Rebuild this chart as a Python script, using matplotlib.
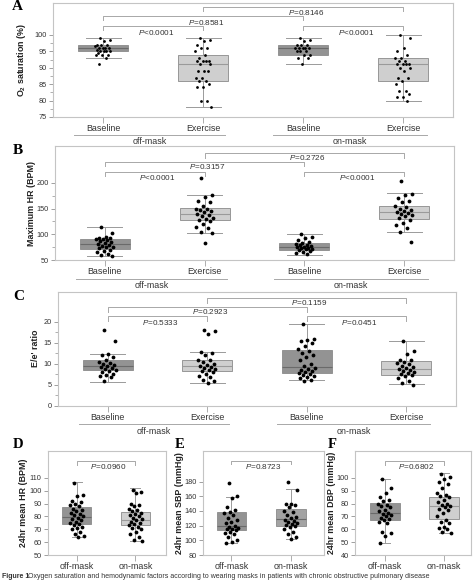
import matplotlib
matplotlib.use('Agg')
import matplotlib.pyplot as plt
from matplotlib.transforms import offset_copy
import numpy as np

plt.rcParams['font.family'] = ['Liberation Sans', 'DejaVu Sans']
plt.rcParams['mathtext.fontset'] = 'custom'
plt.rcParams['mathtext.rm'] = 'Liberation Sans'
plt.rcParams['mathtext.it'] = 'Liberation Sans:italic'
plt.rcParams['mathtext.bf'] = 'Liberation Sans:bold'

# ---------------- data ----------------
abc_categories = ['Baseline', 'Exercise', 'Baseline', 'Exercise']
abc_groups = ['off-mask', 'on-mask']
def_categories = ['off-mask', 'on-mask']

# Panel A: O2 saturation (%)
a_q1 = [95, 86, 94, 86]
a_med = [96, 91, 96, 91]
a_q3 = [97, 94, 97, 93]
a_lo = [93, 78, 91, 80]
a_hi = [99, 99, 99, 100]
a_base_off = [99, 98.5, 98, 97, 97, 97, 96.5, 96, 96, 96, 96, 95.5, 95, 95, 95, 95, 94.5, 94, 94, 94, 93, 91]
a_exer_off = [99, 98.5, 98, 97, 96, 96, 95, 94, 93, 92, 92, 92, 92, 91, 91, 89, 89, 89, 87, 87, 86, 86, 85, 84, 84, 80, 80, 78]
a_base_on = [99, 98.5, 98, 97, 97, 97, 96, 96, 96, 96, 96, 95, 95, 95, 94, 94, 93, 93, 91]
a_exer_on = [100, 99, 96, 95, 94, 93, 93, 92, 92, 91, 91, 91, 91, 90, 90, 89, 87, 87, 86, 85, 83, 83, 82, 81, 81, 80]
a_pvals = ['<0.0001', '=0.8581', '=0.8146', '<0.0001']

# Panel B: maximum HR (BPM)
b_q1 = [71, 127, 69, 130.5]
b_med = [81, 140, 76, 143.5]
b_q3 = [91.5, 150.5, 82.5, 155]
b_lo = [58, 102, 59, 104.5]
b_hi = [115, 176, 100, 180]
b_base_off = [115, 103, 95, 93, 92, 91, 90, 88, 87, 85, 84, 82, 80, 78, 76, 75, 73, 70, 68, 65, 62, 60, 58]
b_exer_off = [210, 176, 173, 165, 162, 155, 150, 150, 148, 145, 143, 140, 138, 135, 132, 130, 128, 125, 120, 115, 112, 105, 103, 84]
b_base_on = [101, 95, 92, 88, 85, 83, 82, 80, 79, 78, 76, 75, 74, 73, 72, 71, 70, 68, 65, 63, 61]
b_exer_on = [203, 179, 177, 171, 165, 162, 155, 153, 150, 148, 145, 143, 142, 140, 137, 135, 132, 128, 122, 118, 112, 105, 86]
b_pvals = ['<0.0001', '=0.3157', '=0.2726', '<0.0001']

# Panel C: E/e' ratio
c_q1 = [8.4, 8.2, 7.9, 7.4]
c_med = [9.4, 9.45, 9.2, 8.65]
c_q3 = [10.8, 11.0, 13.3, 10.55]
c_lo = [5.75, 5.35, 6.1, 5.1]
c_hi = [12.4, 12.75, 19.45, 15.3]
c_base_off = [18, 15.4, 12.3, 12, 11.5, 11, 10.5, 10.2, 10, 9.8, 9.5, 9.3, 9, 8.8, 8.5, 8.2, 8, 7.5, 7.2, 7, 6.8, 5.8]
c_exer_off = [18, 17.8, 17, 12.7, 12.5, 12, 11, 10.8, 10.3, 10, 9.8, 9.5, 9.2, 9, 8.8, 8.5, 8.3, 8, 7.5, 7, 6.8, 6.2, 5.8, 5.3]
c_base_on = [19.5, 16, 15.7, 15.3, 15, 14.2, 13.5, 13, 12.5, 12, 11.5, 11, 10, 9.5, 9, 8.8, 8.5, 8.2, 8, 7.8, 7.5, 7.2, 7, 6.8, 6.5, 6.2, 6]
c_exer_on = [15.3, 13, 12.2, 11, 10.8, 10.5, 10.2, 10, 9.5, 9.2, 9, 8.8, 8.5, 8.3, 8, 7.8, 7.5, 7.2, 7, 6.5, 6, 5.5, 5]
c_pvals = ['=0.5333', '=0.2923', '=0.1159', '=0.0451']

# Panel D: 24hr mean HR (BPM)
d_q1 = [74.2, 73.1]
d_med = [79.4, 77]
d_q3 = [87.1, 83.2]
d_lo = [64.3, 61.2]
d_hi = [106.6, 101.9]
d_off = [106, 97, 96, 92, 91, 90, 89, 88, 86, 85, 84, 83, 82, 81, 80, 79, 78, 77, 76, 75, 74, 73, 72, 71, 70, 68, 66, 65, 64]
d_on = [101, 99, 98, 90, 89, 88, 86, 85, 84, 83, 82, 81, 80, 79, 78, 77, 76, 75, 74, 73, 72, 71, 70, 68, 66, 64, 62, 61]
d_pval = '=0.0960'

# Panel E: 24hr mean SBP (mmHg)
e_q1 = [114, 120]
e_med = [119.5, 128.6]
e_q3 = [138, 142.7]
e_lo = [97, 102]
e_hi = [159.5, 169.5]
e_off = [178, 160, 158, 145, 142, 138, 137, 135, 130, 128, 125, 123, 120, 118, 117, 116, 115, 114, 112, 110, 108, 105, 100, 98, 97]
e_on = [180, 168, 150, 149, 148, 145, 140, 138, 135, 132, 130, 128, 127, 125, 124, 122, 121, 120, 118, 115, 112, 108, 105, 102]
e_pval = '=0.8723'

# Panel F: 24hr mean DBP (mmHg)
f_q1 = [67.3, 68]
f_med = [73, 78.4]
f_q3 = [80.3, 85]
f_lo = [49.6, 57]
f_hi = [99.2, 103.6]
f_off = [99, 92, 88, 85, 83, 82, 80, 79, 78, 77, 75, 74, 73, 72, 71, 70, 69, 68, 67, 66, 65, 58, 57, 55, 49]
f_on = [103, 101, 99, 97, 95, 92, 88, 87, 86, 85, 83, 81, 80, 79, 78, 77, 76, 75, 73, 70, 67, 66, 65, 62, 61, 60, 58, 57]
f_pval = '=0.6802'

caption_head = 'Figure 1'
caption_body = ('Oxygen saturation and hemodynamic factors according to wearing masks '
                'in patients with chronic obstructive pulmonary disease')

# ---------------- style ----------------
W, H = 474, 581
DARK = '#939393'
MID = '#a3a3a3'
LIGHT = '#cfcfcf'
FRAME = '#c4c4c4'
TXT = '#333333'
LINE = '#a8a8a8'

fig = plt.figure(figsize=(W / 100, H / 100), dpi=100)


def add_ax(l, t, r, b):
    return fig.add_axes([l / W, 1 - b / H, (r - l) / W, (b - t) / H])


def jitter(n, amp):
    return amp * np.array([((k * 0.6180339887 + 0.3) % 1) * 2 - 1 for k in range(n)])


def draw_boxes(ax, q1, med, q3, lo, hi, pts, colors, capw, jamp, msize):
    stats = []
    for i in range(len(q1)):
        stats.append(dict(med=med[i], q1=q1[i], q3=q3[i], whislo=lo[i], whishi=hi[i], fliers=[]))
    pos = list(range(len(q1)))
    bp = ax.bxp(stats, positions=pos, widths=0.5, patch_artist=True, showfliers=False,
                capwidths=capw, manage_ticks=False,
                boxprops=dict(edgecolor='#8a8a8a', linewidth=0.6),
                whiskerprops=dict(color='#9a9a9a', linewidth=0.7),
                capprops=dict(color='#9a9a9a', linewidth=0.7),
                medianprops=dict(linewidth=0.8))
    for patch, c in zip(bp['boxes'], colors):
        patch.set_facecolor(c)
    for mline, c in zip(bp['medians'], colors):
        mline.set_color('#6a6a6a' if c != LIGHT else '#9a9a9a')
    for i, p in enumerate(pts):
        ax.scatter(i + jitter(len(p), jamp), p, s=msize, color='black', linewidths=0, zorder=5)


def style_ax(ax, xlim, ylim, yticks, minor):
    ax.set_xlim(*xlim)
    ax.set_ylim(*ylim)
    ax.set_yticks(yticks)
    ax.set_yticklabels([str(v) for v in yticks])
    if minor:
        ax.set_yticks(minor, minor=True)
    for s in ax.spines.values():
        s.set_color(FRAME)
        s.set_linewidth(0.8)
    ax.tick_params(axis='y', which='major', length=3, width=0.6, color='#909090',
                   labelsize=5.3, labelcolor=TXT, pad=1.5)
    ax.tick_params(axis='y', which='minor', length=2, width=0.5, color='#909090')
    ax.tick_params(axis='x', length=4, width=0.6, color='#a0a0a0', labelbottom=False)


def bracket(ax, x1, x2, y, ytext, label, drop_px=4.5):
    bb = ax.get_position()
    hpx = bb.height * H
    y0, y1 = ax.get_ylim()
    d = drop_px * (y1 - y0) / hpx
    ax.plot([x1, x1, x2, x2], [y - d, y, y, y - d], color=LINE, linewidth=0.7, zorder=3)
    ax.text((x1 + x2) / 2 + 0.03, ytext, r'$\mathit{P}$' + label,
            ha='center', va='center', fontsize=5.9, color=TXT)


def cat_labels(ax, labels, off_px=11.3):
    tr = offset_copy(ax.get_xaxis_transform(), fig=fig, y=-off_px, units='dots')
    for i, lab in enumerate(labels):
        ax.text(i, 0, lab, transform=tr, ha='center', va='center', fontsize=6.4, color=TXT, clip_on=False)


def group_labels(ax, groups, line_px, text_px):
    trl = offset_copy(ax.get_xaxis_transform(), fig=fig, y=-line_px, units='dots')
    trt = offset_copy(ax.get_xaxis_transform(), fig=fig, y=-text_px, units='dots')
    spans = [(-0.29, 1.22), (1.7, 3.24)]
    for (xa, xb), g in zip(spans, groups):
        ax.plot([xa, xb], [0, 0], transform=trl, color=LINE, linewidth=0.7, clip_on=False)
        ax.text((xa + xb) / 2, 0, g, transform=trt, ha='center', va='center', fontsize=6.4,
                color=TXT, clip_on=False)


abc_colors = [DARK, LIGHT, DARK, LIGHT]

# ---- Panel A ----
axA = add_ax(53, 3, 453, 117)
style_ax(axA, (-0.5, 3.5), (75, 109.7), [75, 80, 85, 90, 95, 100],
         [77.5, 82.5, 87.5, 92.5, 97.5])
draw_boxes(axA, a_q1, a_med, a_q3, a_lo, a_hi, [a_base_off, a_exer_off, a_base_on, a_exer_on],
           abc_colors, 0.35, 0.08, 4)
axA.set_xticks(range(4))
bracket(axA, 0, 1, 102.7, 100.6, a_pvals[0])
bracket(axA, 0, 2, 105.8, 103.9, a_pvals[1])
bracket(axA, 1, 3, 108.6, 106.8, a_pvals[2])
bracket(axA, 2, 3, 102.7, 100.6, a_pvals[3])
cat_labels(axA, abc_categories)
group_labels(axA, abc_groups, 18.3, 24.5)

# ---- Panel B ----
axB = add_ax(55, 146, 454, 260)
style_ax(axB, (-0.5, 3.5), (50, 272), [50, 100, 150, 200], [75, 125, 175])
draw_boxes(axB, b_q1, b_med, b_q3, b_lo, b_hi, [b_base_off, b_exer_off, b_base_on, b_exer_on],
           abc_colors, 0.35, 0.09, 7.5)
axB.set_xticks(range(4))
bracket(axB, 0, 1, 222, 210.4, b_pvals[0])
bracket(axB, 0, 2, 241.6, 231.8, b_pvals[1])
bracket(axB, 1, 3, 257.8, 249.4, b_pvals[2])
bracket(axB, 2, 3, 222, 210.4, b_pvals[3])
cat_labels(axB, abc_categories)
group_labels(axB, abc_groups, 19, 25)

# ---- Panel C ----
axC = add_ax(58, 291.5, 456, 405.7)
style_ax(axC, (-0.5, 3.5), (0, 27.2), [0, 5, 10, 15, 20], [2.5, 7.5, 12.5, 17.5])
draw_boxes(axC, c_q1, c_med, c_q3, c_lo, c_hi, [c_base_off, c_exer_off, c_base_on, c_exer_on],
           abc_colors, 0.35, 0.09, 7.5)
axC.set_xticks(range(4))
bracket(axC, 0, 1, 21.3, 19.8, c_pvals[0])
bracket(axC, 0, 2, 23.4, 22.4, c_pvals[1])
bracket(axC, 1, 3, 25.6, 24.6, c_pvals[2])
bracket(axC, 2, 3, 21.3, 19.8, c_pvals[3])
cat_labels(axC, abc_categories)
group_labels(axC, abc_groups, 18.6, 26)

# ---- Panels D, E, F ----
axD = add_ax(48, 451, 166, 555)
style_ax(axD, (-0.49, 1.52), (50, 131), [50, 60, 70, 80, 90, 100, 110], None)
draw_boxes(axD, d_q1, d_med, d_q3, d_lo, d_hi, [d_off, d_on], [DARK, LIGHT], 0.17, 0.12, 7.5)
axD.set_xticks(range(2))
bracket(axD, 0, 1, 123.2, 118.8, d_pval, 3.5)
cat_labels(axD, def_categories, 11.7)

axE = add_ax(203, 451, 324, 555)
style_ax(axE, (-0.48, 1.56), (80, 221.8), [80, 100, 120, 140, 160, 180], None)
draw_boxes(axE, e_q1, e_med, e_q3, e_lo, e_hi, [e_off, e_on], [DARK, MID], 0.17, 0.12, 7.5)
axE.set_xticks(range(2))
bracket(axE, 0, 1, 208.2, 200.5, e_pval, 3.5)
cat_labels(axE, def_categories, 11.7)

axF = add_ax(355, 451, 471.5, 555)
style_ax(axF, (-0.51, 1.47), (40, 121), [40, 50, 60, 70, 80, 90, 100], None)
draw_boxes(axF, f_q1, f_med, f_q3, f_lo, f_hi, [f_off, f_on], [DARK, LIGHT], 0.17, 0.12, 7.5)
axF.set_xticks(range(2))
bracket(axF, 0, 1, 113.2, 108.8, f_pval, 3.5)
cat_labels(axF, def_categories, 11.7)

# ---- y labels ----
ylabels = [(22, 60, r'O$_\mathbf{2}$ saturation (%)'),
           (31, 203, 'Maximum HR (BPM)'),
           (36, 348.7, "E/e' ratio"),
           (23.5, 503, '24hr mean HR (BPM)'),
           (180, 503, '24hr mean SBP (mmHg)'),
           (332, 503, '24hr mean DBP (mmHg)')]
for x, y, s in ylabels:
    fig.text(x / W, 1 - y / H, s, rotation=90, ha='center', va='center', fontsize=6.4,
             fontweight='bold', color='#222222')

# ---- panel letters ----
letters = [(17, 7, 'A', 11), (17.7, 150, 'B', 11), (18.3, 296.7, 'C', 11),
           (18, 444.7, 'D', 10.5), (179.5, 444.7, 'E', 10.5), (332.5, 444.7, 'F', 10.5)]
for x, y, s, fs in letters:
    fig.text(x / W, 1 - y / H, s, ha='center', va='center', fontsize=fs, fontweight='bold',
             family=['Liberation Serif'], color='black')

# ---- caption (at the bottom edge) ----
fig.text(2 / W, 1 - 578.5 / H, caption_head, ha='left', va='baseline', fontsize=5.0,
         fontweight='bold', color='#333333')
fig.text(28 / W, 1 - 578.5 / H, caption_body, ha='left', va='baseline', fontsize=5.0,
         color='#333333')

fig.savefig('out.png', dpi=100)
